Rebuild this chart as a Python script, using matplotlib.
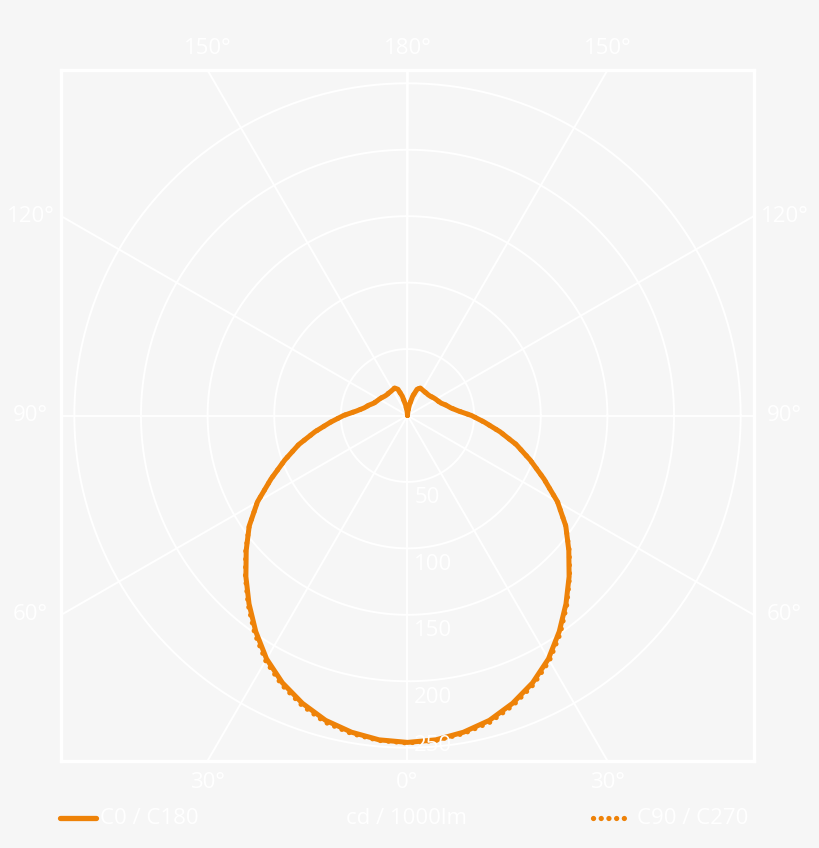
import numpy as np
import matplotlib
matplotlib.use("Agg")
import matplotlib.pyplot as plt
from matplotlib.lines import Line2D

# luminous intensity, cd / 1000lm, half plane (symmetric)
GAMMA = [0, 5, 10, 15, 20, 25, 30, 35, 40, 45, 50, 55, 60, 65, 70, 75, 80, 85,
         90, 95, 100, 105, 110, 115, 120, 125, 130, 135, 140, 145, 150, 155,
         160, 165, 170, 175, 180]
C0_C180 = [246, 245, 242, 237.5, 230.5, 222, 211.5, 198.5, 185, 171.5, 158,
           145, 130, 113, 98, 84.5, 70.5, 58, 48, 38.5, 33, 30, 27, 25.5, 24.5,
           23.5, 22.5, 22, 22, 22, 22.3, 22.8, 21, 15, 8, 3, 0]
C90_C270 = [246.5, 245.5, 243, 239, 232, 223.5, 213, 200, 186, 172, 158.5,
            145, 130, 113, 98, 84.5, 70.5, 58, 48, 38.5, 33, 30, 27, 25.5, 24.5,
            23.5, 22.5, 22, 22, 22, 22.3, 22.8, 21, 15, 8, 3, 0]

RINGS = [50, 100, 150, 200, 250]
RAYS = [0, 30, 60, 90, 120, 150, 180]

BG = '#f6f6f6'
GRID = 'white'
ORANGE = '#ee8208'
FS = 16
LIM = 260

plt.rcParams['font.family'] = ['Open Sans', 'DejaVu Sans']

fig = plt.figure(figsize=(8.2, 8.48), dpi=100, facecolor=BG)
ax = fig.add_axes([61 / 820, 87 / 848, 693 / 820, 691 / 848])
ax.set_facecolor(BG)
ax.set_xlim(-LIM, LIM)
ax.set_ylim(-LIM, LIM)
ax.set_xticks([])
ax.set_yticks([])
for sp in ax.spines.values():
    sp.set_color(GRID)
    sp.set_linewidth(2.4)

# rings
t = np.linspace(0, 2 * np.pi, 400)
for r in RINGS:
    ax.plot(r * np.cos(t), r * np.sin(t), color=GRID, lw=1.4, zorder=1)
    ax.text(5, -min(r + 12, 248.5), str(r), color=GRID, fontsize=FS,
            ha='left', va='center', zorder=4)

# rays (both sides)
for g in RAYS:
    a = np.radians(g)
    for s in (-1, 1):
        ax.plot([0, s * 500 * np.sin(a)], [0, -500 * np.cos(a)],
                color=GRID, lw=1.4, zorder=1)

# curves
g = np.radians(np.array(GAMMA))
for vals, ls in ((C0_C180, '-'), (C90_C270, (0, (0.01, 1.6)))):
    v = np.array(vals)
    xs = np.concatenate([-(v * np.sin(g))[::-1], (v * np.sin(g))[1:]])
    ys = np.concatenate([-(v * np.cos(g))[::-1], -(v * np.cos(g))[1:]])
    ax.plot(xs, ys, color=ORANGE, lw=3.6, ls=ls, dash_capstyle='round',
            solid_capstyle='round', solid_joinstyle='round', zorder=3)

# angle labels outside frame
off_y = 16
off_x = 23
tx = LIM * np.tan(np.radians(30))
kw = dict(color=GRID, fontsize=FS, ha='center', va='center', clip_on=False)
ax.text(0, LIM + off_y, '180°', **kw)
ax.text(-tx, LIM + off_y, '150°', **kw)
ax.text(tx, LIM + off_y, '150°', **kw)
ax.text(-tx, -LIM - off_y, '30°', **kw)
ax.text(0, -LIM - off_y, '0°', **kw)
ax.text(tx, -LIM - off_y, '30°', **kw)
for lab, yv in (('120°', tx), ('90°', 0), ('60°', -tx)):
    ax.text(-LIM - off_x, yv, lab, **kw)
    ax.text(LIM + off_x, yv, lab, **kw)

# legend row
ly = 30 / 848
fig.add_artist(Line2D([60 / 820, 96 / 820], [ly, ly], color=ORANGE, lw=3.8,
                      solid_capstyle='round'))
fig.add_artist(Line2D([593 / 820, 629 / 820], [ly, ly], color=ORANGE, lw=3.8,
                      ls=(0, (0.01, 1.45)), dash_capstyle='round'))
fig.text(100 / 820, ly, 'C0 / C180', color=GRID, fontsize=FS, ha='left', va='center')
fig.text(407 / 820, ly, 'cd / 1000lm', color=GRID, fontsize=FS, ha='center', va='center')
fig.text(637 / 820, ly, 'C90 / C270', color=GRID, fontsize=FS, ha='left', va='center')

fig.savefig('out.png', dpi=100, facecolor=BG)
